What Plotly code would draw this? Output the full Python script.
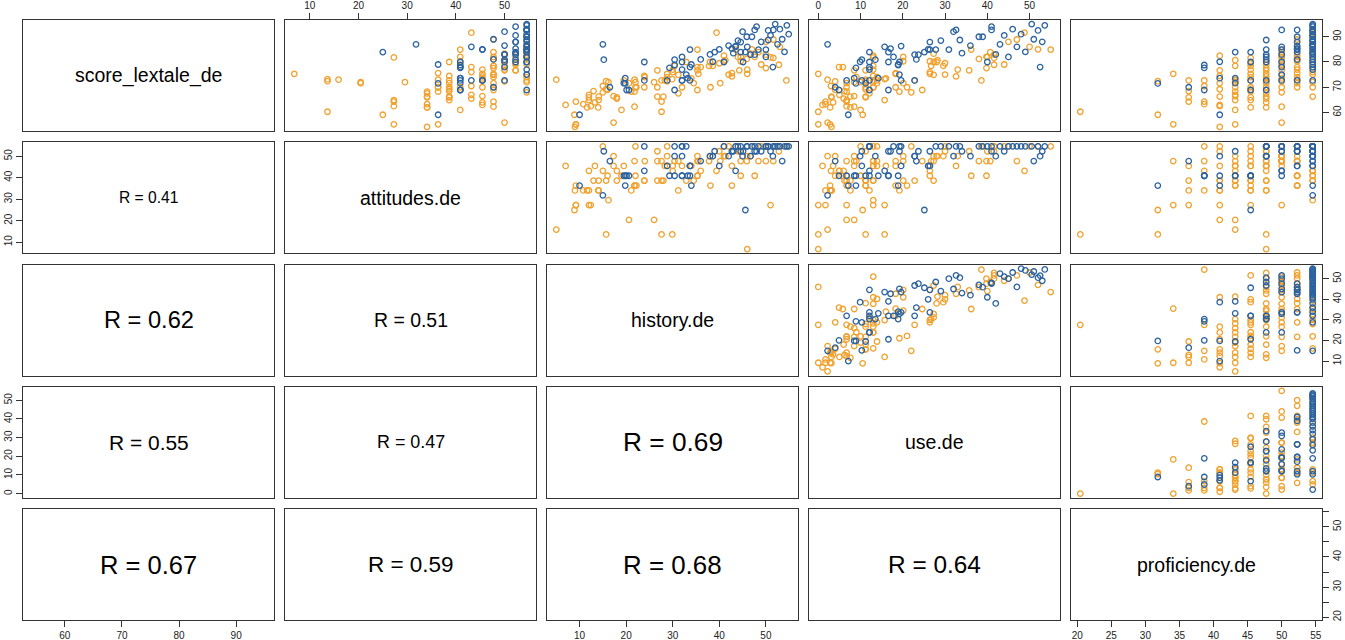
import plotly.graph_objects as go

# variable names on the diagonal, in pairs() order
labels = ["score_lextale_de", "attitudes.de", "history.de", "use.de", "proficiency.de"]

# ---- orange group (one value per participant, grouped by proficiency level) ----
orange_score = [
    60.3,
    72.4, 59.1,
    75.3, 55.3,
    72.7, 68.5, 66.0, 64.3,
    72.7, 64.3, 63.3, 70.5,
    82.5, 76.7, 74.5, 71.6, 69.2, 66.3, 62.5, 54.3, 63.0,
    80.7, 78.5, 72.7, 72.0, 70.0, 68.3, 66.5, 64.9, 73.0, 55.3, 67.0, 61.0,
    81.6, 78.5, 75.3, 72.7, 70.0, 68.3, 64.9, 77.0, 66.0, 62.0, 74.0, 69.0, 79.5,
    78.9, 77.6, 76.7, 75.3, 74.3, 68.9, 71.6, 70.0, 73.2, 67.6, 66.3, 64.0, 62.0, 80.0, 72.0, 65.5,
    84.9, 83.9, 83.3, 82.0, 81.8, 80.3, 78.5, 76.7, 74.9, 72.3, 62.3, 56.0, 70.0, 79.0, 73.5, 68.0,
    88.9, 82.9, 82.0, 81.2, 80.3, 75.6, 71.6, 70.0, 78.0, 74.0, 73.0, 86.0, 77.0,
    91.6, 84.9, 80.0, 76.0, 72.0, 66.3, 70.0, 78.0, 88.0, 85.0, 82.0, 75.0,
]
orange_attitudes = [
    13.64,
    13.64, 25.00,
    47.73, 27.27,
    45.45, 38.64, 34.09, 27.27,
    54.55, 47.73, 34.09, 43.18,
    54.55, 52.27, 38.64, 20.45, 38.64, 34.09, 27.27, 34.09, 45.45,
    50.00, 47.73, 45.45, 20.45, 38.64, 36.36, 45.45, 38.64, 15.91, 36.36, 43.18, 40.91,
    54.55, 50.00, 45.45, 38.64, 36.36, 34.09, 27.27, 45.45, 38.64, 34.09, 47.73, 40.91, 52.27,
    52.27, 47.73, 52.27, 6.82, 45.45, 47.73, 38.64, 45.45, 13.64, 34.09, 38.64, 45.45, 34.09, 50.00, 54.55, 43.18,
    54.55, 47.73, 50.00, 47.73, 27.27, 50.00, 47.73, 50.00, 47.73, 50.00, 47.73, 50.00, 47.73, 54.55, 45.45, 54.55,
    47.73, 54.55, 40.91, 47.73, 40.91, 36.36, 47.73, 36.36, 40.91, 54.55, 36.36, 54.55, 50.00,
    43.18, 40.91, 38.64, 43.18, 29.55, 38.64, 40.91, 43.18, 54.55, 54.55, 52.27, 54.55,
]
orange_history = [
    27.6,
    15.7, 8.9,
    35.5, 9.2,
    19.5, 13.0, 12.0, 9.2,
    54.4, 27.6, 10.8, 15.0,
    41.0, 26.7, 23.9, 20.6, 15.7, 14.1, 12.4, 9.0, 7.0,
    41.3, 30.4, 28.3, 26.0, 23.9, 21.8, 17.3, 14.1, 5.0, 9.2, 12.0, 19.0,
    51.6, 38.6, 28.8, 27.6, 22.2, 21.1, 12.0, 30.0, 18.0, 14.0, 24.0, 16.0, 40.0,
    52.8, 50.0, 44.3, 46.0, 42.7, 35.3, 34.5, 32.0, 29.9, 31.2, 26.7, 13.3, 11.6, 38.0, 22.0, 18.0,
    43.5, 48.4, 46.7, 44.6, 51.0, 41.0, 37.8, 35.3, 31.2, 28.8, 21.8, 17.3, 26.7, 49.0, 34.0, 15.0,
    51.6, 50.0, 47.6, 45.9, 44.6, 42.7, 40.2, 38.1, 35.3, 28.8, 21.8, 53.0, 46.0,
    39.4, 35.3, 32.9, 30.0, 16.2, 28.0, 22.0, 36.0, 50.0, 47.0, 44.0, 42.0,
]
orange_use = [
    0.0,
    11.2, 10.5,
    18.3, 0.0,
    13.9, 6.2, 3.1, 1.7,
    38.6, 6.7, 1.7, 3.0,
    13.0, 11.2, 13.0, 6.7, 11.2, 3.1, 6.7, 3.1, 1.0,
    28.2, 26.7, 13.0, 8.5, 13.0, 6.7, 8.5, 6.7, 2.2, 2.8, 5.0, 10.0,
    41.6, 29.6, 26.4, 22.8, 21.0, 19.2, 15.7, 13.0, 11.2, 2.8, 9.0, 4.0, 30.0,
    41.6, 39.8, 35.7, 0.0, 32.6, 24.6, 20.1, 18.3, 15.7, 12.1, 7.6, 3.5, 7.6, 28.0, 10.0, 6.0,
    55.0, 40.7, 27.3, 20.1, 13.0, 20.1, 13.0, 8.5, 27.3, 4.0, 8.5, 2.2, 13.0, 44.0, 16.0, 22.0,
    47.0, 41.6, 39.8, 38.0, 26.4, 18.3, 13.9, 11.2, 5.8, 13.9, 11.2, 50.0, 33.0,
    48.8, 36.2, 27.3, 26.4, 13.0, 11.2, 6.7, 4.9, 45.0, 52.0, 40.0, 30.0,
]
orange_proficiency = [
    20.45,
    31.82, 31.82,
    34.09, 34.09,
    36.36, 36.36, 36.36, 36.36,
    38.64, 38.64, 38.64, 38.64,
    40.91, 40.91, 40.91, 40.91, 40.91, 40.91, 40.91, 40.91, 40.91,
    43.18, 43.18, 43.18, 43.18, 43.18, 43.18, 43.18, 43.18, 43.18, 43.18, 43.18, 43.18,
    45.45, 45.45, 45.45, 45.45, 45.45, 45.45, 45.45, 45.45, 45.45, 45.45, 45.45, 45.45, 45.45,
    47.73, 47.73, 47.73, 47.73, 47.73, 47.73, 47.73, 47.73, 47.73, 47.73, 47.73, 47.73, 47.73, 47.73, 47.73, 47.73,
    50.00, 50.00, 50.00, 50.00, 50.00, 50.00, 50.00, 50.00, 50.00, 50.00, 50.00, 50.00, 50.00, 50.00, 50.00, 50.00,
    52.27, 52.27, 52.27, 52.27, 52.27, 52.27, 52.27, 52.27, 52.27, 52.27, 52.27, 52.27, 52.27,
    54.55, 54.55, 54.55, 54.55, 54.55, 54.55, 54.55, 54.55, 54.55, 54.55, 54.55, 54.55,
]

# ---- blue group ----
blue_score = [
    71.5,
    70.0,
    78.8, 77.7, 68.9,
    80.1, 73.6, 59.1,
    83.9, 73.6, 71.6,
    83.9, 80.0, 72.7, 68.9,
    88.7, 84.9, 82.9, 82.0, 80.9, 80.0, 72.7, 68.9,
    92.7, 84.9, 82.9, 80.0, 86.0, 78.0, 75.0, 72.7,
    92.7, 90.0, 87.9, 86.3, 85.3, 84.9, 83.9, 80.9, 72.7,
    95.0, 94.5, 94.0, 93.0, 92.5, 92.0, 91.0, 90.5, 90.0, 89.0, 88.5, 88.0, 87.0, 86.5,
    86.0, 85.0, 84.0, 83.5, 83.0, 82.0, 81.0, 80.0, 79.0, 78.0, 77.0, 72.7, 87.0,
]
blue_attitudes = [
    36.36,
    47.73,
    40.91, 40.91, 40.91,
    50.00, 40.91, 36.36,
    52.27, 40.91, 40.91,
    25.00, 40.91, 40.91, 40.91,
    54.55, 54.55, 50.00, 54.55, 50.00, 54.55, 50.00, 54.55,
    54.55, 54.55, 52.27, 52.27, 43.18, 40.91, 54.55, 43.18,
    54.55, 54.55, 52.27, 54.55, 52.27, 45.45, 54.55, 52.27, 45.45,
    54.55, 54.55, 52.27, 54.55, 54.55, 50.00, 54.55, 52.27, 54.55, 47.73, 54.55, 52.27, 54.55, 50.00,
    54.55, 45.45, 54.55, 52.27, 50.00, 54.55, 47.73, 54.55, 36.36, 50.00, 54.55, 45.45, 31.82,
]
blue_history = [
    19.8,
    16.5,
    30.4, 29.3, 20.1,
    38.6, 19.8, 10.0,
    39.0, 33.2, 19.5,
    45.6, 32.0, 32.0, 20.6,
    50.5, 48.4, 46.7, 32.0, 30.4, 23.9, 32.0, 30.4,
    51.6, 50.0, 47.6, 45.1, 43.5, 33.7, 32.9, 23.9,
    47.6, 45.9, 44.6, 43.5, 42.7, 33.7, 44.6, 15.2, 33.7,
    52.0, 54.5, 48.0, 53.0, 50.5, 45.0, 54.9, 51.0, 47.0, 53.5, 44.0, 49.0, 52.5, 42.0,
    46.0, 40.0, 54.0, 43.0, 38.0, 50.0, 36.0, 41.0, 34.0, 51.5, 32.0, 28.8, 15.0,
]
blue_use = [
    8.9,
    4.0,
    18.9, 8.9, 4.9,
    9.9, 8.5, 7.1,
    16.6, 14.2, 11.2,
    25.1, 16.6, 6.7, 16.6,
    33.5, 27.8, 22.8, 17.8, 13.5, 12.1, 22.8, 12.1,
    32.6, 30.9, 23.7, 19.2, 15.7, 12.1, 19.2, 12.1,
    41.0, 38.9, 26.4, 19.6, 17.1, 26.4, 12.1, 10.3, 19.6,
    50.5, 53.6, 41.0, 46.0, 52.0, 32.0, 48.0, 44.0, 38.0, 51.0, 29.0, 53.0, 43.0, 36.0,
    47.0, 26.0, 49.0, 34.0, 42.0, 45.0, 23.2, 40.0, 18.9, 52.5, 12.1, 10.3, 2.2,
]
blue_proficiency = [
    31.82,
    36.36,
    38.64, 38.64, 38.64,
    40.91, 40.91, 40.91,
    43.18, 43.18, 43.18,
    45.45, 45.45, 45.45, 45.45,
    47.73, 47.73, 47.73, 47.73, 47.73, 47.73, 47.73, 47.73,
    50.00, 50.00, 50.00, 50.00, 50.00, 50.00, 50.00, 50.00,
    52.27, 52.27, 52.27, 52.27, 52.27, 52.27, 52.27, 52.27, 52.27,
    54.55, 54.55, 54.55, 54.55, 54.55, 54.55, 54.55, 54.55, 54.55, 54.55, 54.55, 54.55, 54.55, 54.55,
    54.55, 54.55, 54.55, 54.55, 54.55, 54.55, 54.55, 54.55, 54.55, 54.55, 54.55, 54.55, 54.55,
]

# correlations printed in the lower panels (row, col, r)
r_row = [1, 2, 2, 3, 3, 3, 4, 4, 4, 4]
r_col = [0, 0, 1, 0, 1, 2, 0, 1, 2, 3]
r_value = [0.41, 0.62, 0.51, 0.55, 0.47, 0.69, 0.67, 0.59, 0.68, 0.64]

# axis ticks per variable
tick_vals = [
    [60, 70, 80, 90],
    [10, 20, 30, 40, 50],
    [10, 20, 30, 40, 50],
    [0, 10, 20, 30, 40, 50],
    [20, 25, 30, 35, 40, 45, 50, 55],
]
prof_y_text = ["20", "", "30", "", "40", "", "50", ""]

orange = [orange_score, orange_attitudes, orange_history, orange_use, orange_proficiency]
blue = [blue_score, blue_attitudes, blue_history, blue_use, blue_proficiency]

ORANGE = "#F0A12E"
BLUE = "#2B62A0"
W, H = 1345, 640
n = len(labels)

# R pairs(): range of the data padded by 4%
ranges = []
for v in range(n):
    vals = orange[v] + blue[v]
    lo, hi = min(vals), max(vals)
    pad = 0.04 * (hi - lo)
    ranges.append([lo - pad, hi + pad])

# panel geometry in pixels
left0, pitch_x, pw = 23, 262, 251
top0, pitch_y, ph = 20, 122.25, 111

fig = go.Figure()
layout = {}
annotations = []
tick_font = dict(family="Liberation Sans, Arial", size=10, color="#222")

for i in range(n):
    for j in range(n):
        k = i * n + j + 1
        x0 = left0 + j * pitch_x
        y0 = top0 + i * pitch_y
        xa = dict(domain=[x0 / W, (x0 + pw) / W], range=ranges[j], anchor="y%d" % k,
                  showline=True, mirror=True, linecolor="#333", linewidth=1.2,
                  showgrid=False, zeroline=False, showticklabels=False, ticks="",
                  fixedrange=True)
        ya = dict(domain=[1 - (y0 + ph) / H, 1 - y0 / H], range=ranges[i], anchor="x%d" % k,
                  showline=True, mirror=True, linecolor="#333", linewidth=1.2,
                  showgrid=False, zeroline=False, showticklabels=False, ticks="",
                  fixedrange=True)
        tick_style = dict(ticks="outside", ticklen=6, tickcolor="#333", tickwidth=1.2,
                          showticklabels=True, tickfont=tick_font)
        if i == 0 and j % 2 == 1:
            xa.update(tick_style, side="top", tickvals=tick_vals[j])
        if i == n - 1 and j % 2 == 0:
            xa.update(tick_style, side="bottom", tickvals=tick_vals[j])
        if j == 0 and i % 2 == 1:
            ya.update(tick_style, side="left", tickvals=tick_vals[i], tickangle=-90)
        if j == n - 1 and i % 2 == 0:
            ya.update(tick_style, side="right", tickvals=tick_vals[i], tickangle=-90)
            if i == n - 1:
                ya.update(ticktext=prof_y_text)
        layout["xaxis%d" % k] = xa
        layout["yaxis%d" % k] = ya

        cx = (x0 + pw / 2) / W
        cy = 1 - (y0 + ph / 2) / H
        if i < j:
            for grp, col in ((orange, ORANGE), (blue, BLUE)):
                fig.add_trace(go.Scatter(
                    x=grp[j], y=grp[i], mode="markers",
                    xaxis="x%d" % k, yaxis="y%d" % k,
                    marker=dict(symbol="circle-open", size=5.5, color=col,
                                line=dict(width=1.3, color=col)),
                    hoverinfo="skip", showlegend=False))
        else:
            # empty trace so the panel frame gets drawn
            fig.add_trace(go.Scatter(x=[None], y=[None], mode="markers",
                                     xaxis="x%d" % k, yaxis="y%d" % k,
                                     hoverinfo="skip", showlegend=False))
            if i == j:
                annotations.append(dict(x=cx, y=cy, xref="paper", yref="paper", text=labels[i],
                                        showarrow=False, xanchor="center", yanchor="middle",
                                        font=dict(family="Liberation Sans, Arial", size=19.5,
                                                  color="black")))

for r, c, val in zip(r_row, r_col, r_value):
    x0 = left0 + c * pitch_x
    y0 = top0 + r * pitch_y
    annotations.append(dict(x=(x0 + pw / 2) / W, y=1 - (y0 + ph / 2) / H,
                            xref="paper", yref="paper", text="R = %.2f" % val,
                            showarrow=False, xanchor="center", yanchor="middle",
                            font=dict(family="Liberation Sans, Arial", size=38.1 * val,
                                      color="black")))

fig.update_layout(**layout)
fig.update_layout(width=W, height=H, margin=dict(l=0, r=0, t=0, b=0),
                  paper_bgcolor="white", plot_bgcolor="white",
                  annotations=annotations, showlegend=False)

# drop the default 8px page margin so the figure sits at the window's top-left corner
fig.write_html("out.html", config={"displayModeBar": False},
               post_script="document.body.style.margin='0';")
